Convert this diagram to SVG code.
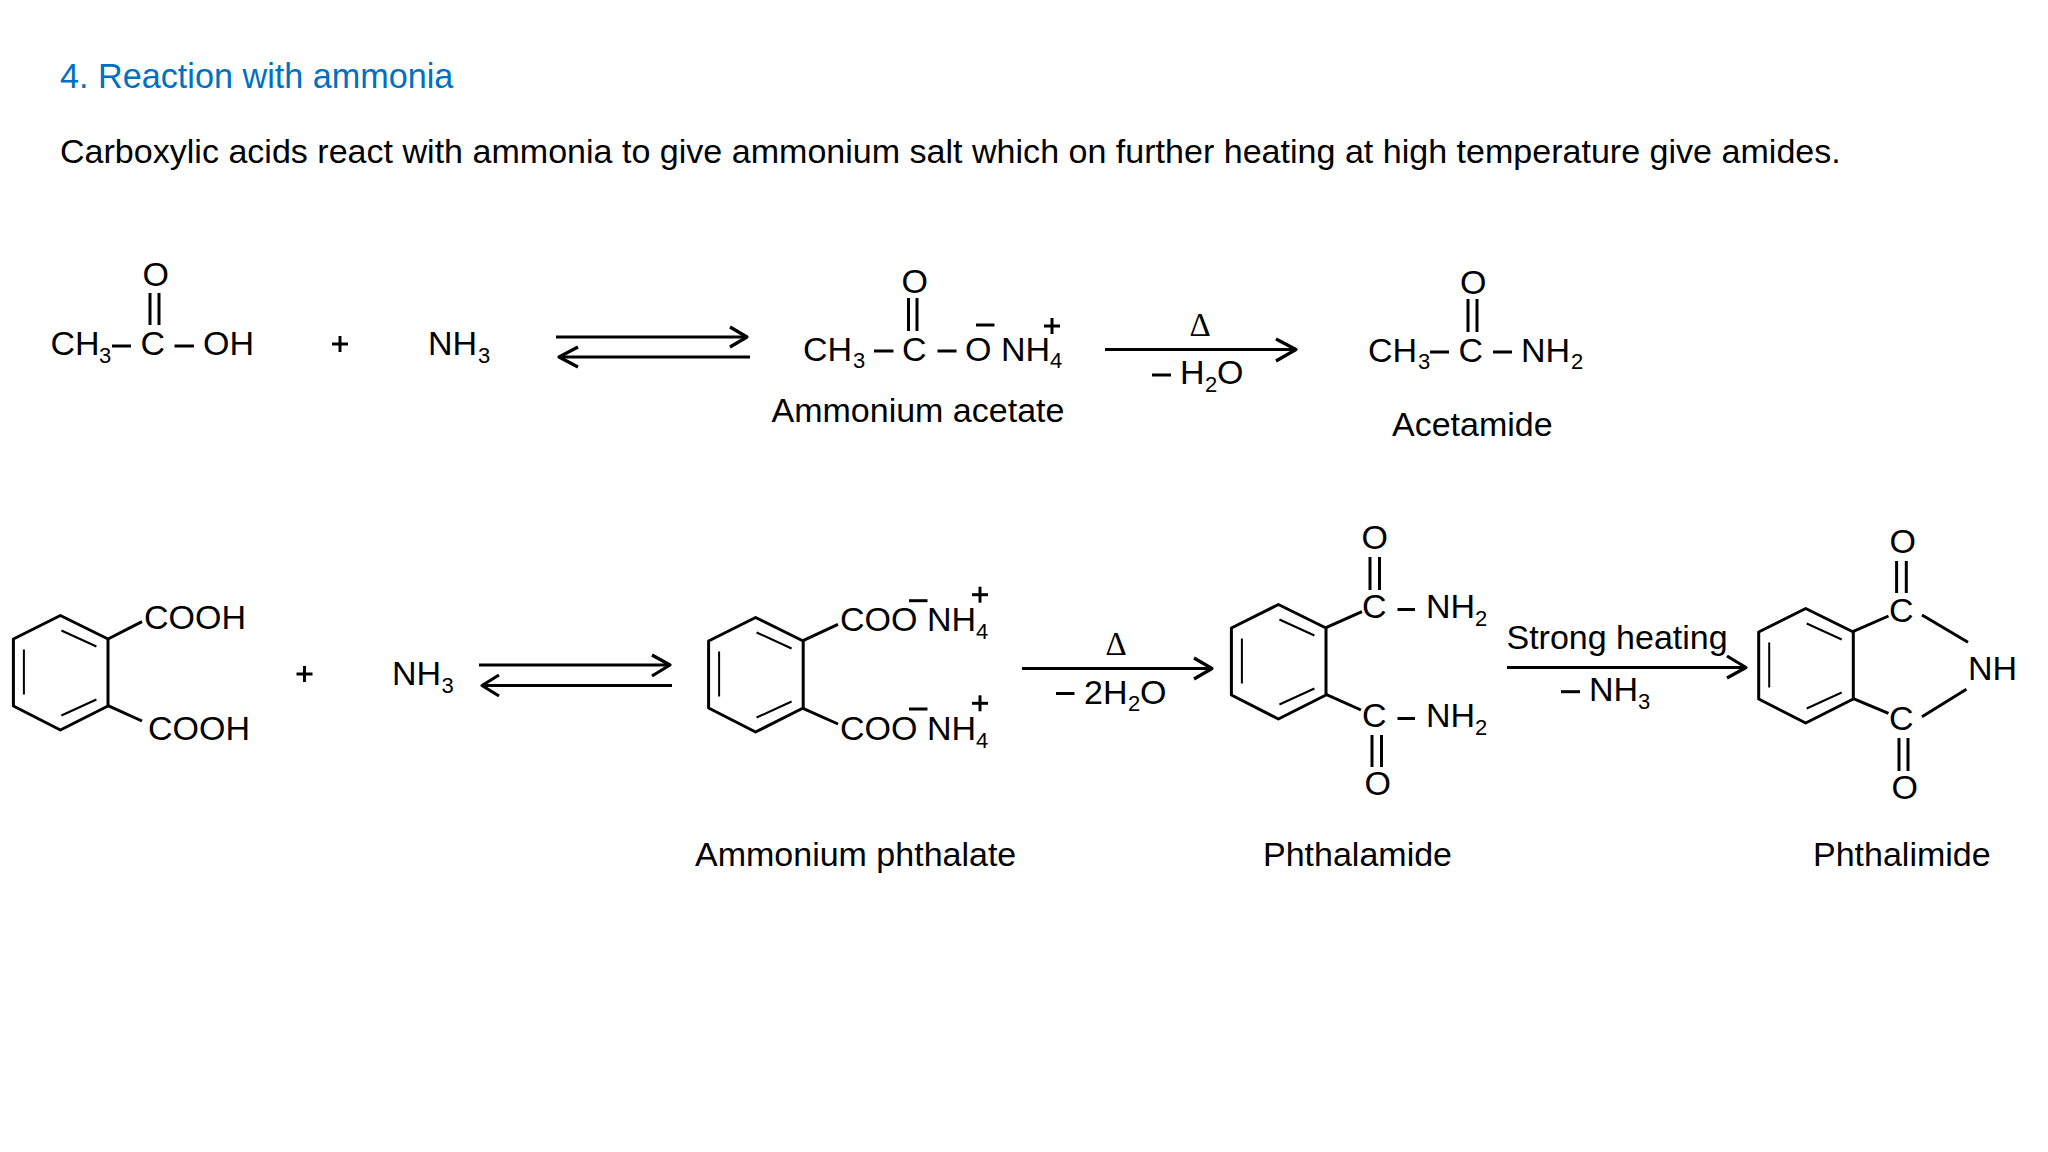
<svg xmlns="http://www.w3.org/2000/svg" width="2048" height="1152" viewBox="0 0 2048 1152">
<defs><style>
text{font-family:"Liberation Sans",Arial,sans-serif;font-size:34px;fill:#000}
.s{font-size:22px}
.d{font-family:"Liberation Serif","Times New Roman",serif;font-size:33px}
.h{fill:#0070c0;font-size:34.2px}
.b{font-size:34.05px}
line,polyline,polygon{stroke:#000;fill:none;stroke-width:3;stroke-linejoin:round}
.t{stroke-width:2}
.a{stroke-width:3.2}
</style>
<g id="ring"><polygon points="47,0 94.6,23.5 94.6,90.5 47,114.5 0,90.5 0,23.5"/><line class="t" x1="48" y1="15" x2="83" y2="31"/><line class="t" x1="10.5" y1="34" x2="10.5" y2="79"/><line class="t" x1="48" y1="100" x2="83" y2="84"/></g>
</defs>
<rect width="2048" height="1152" fill="#fff"/>
<g id="heading"><text class="h" x="60" y="88">4. Reaction with ammonia</text></g>
<g id="intro"><text class="b" x="60" y="163">Carboxylic acids react with ammonia to give ammonium salt which on further heating at high temperature give amides.</text></g>

<g id="connectors">
<polyline class="a" points="556,337 747,337"/><polyline class="a" points="730,327 747,337 730,347"/>
<polyline class="a" points="559,357 750,357"/><polyline class="a" points="578,347 559,357 578,367"/>
<polyline class="a" points="1105,349.5 1296,349.5"/><polyline class="a" points="1276,339 1296,349.5 1276,361"/>
<polyline class="a" points="479,665 670,665"/><polyline class="a" points="652,655 670,665 652,676"/>
<polyline class="a" points="482,685.5 672,685.5"/><polyline class="a" points="499,675 482,685.5 499,696"/>
<polyline class="a" points="1022,668.5 1212,668.5"/><polyline class="a" points="1194,658 1212,668.5 1194,679"/>
<polyline class="a" points="1507,667.5 1746,667.5"/><polyline class="a" points="1727,656 1746,667.5 1727,678"/>
</g>

<g id="acetic-acid">
<text x="142.5" y="286">O</text>
<line x1="150" y1="293" x2="150" y2="325"/><line x1="159" y1="293" x2="159" y2="325"/>
<text x="50.5" y="355">CH</text><text class="s" x="99" y="363">3</text>
<line x1="112" y1="346" x2="131" y2="346"/>
<text x="140.5" y="355">C</text>
<line x1="174.5" y1="346" x2="194" y2="346"/>
<text x="203" y="355">OH</text>
</g>
<g id="plus-1"><line x1="332" y1="344" x2="348" y2="344"/><line x1="340" y1="336" x2="340" y2="352"/></g>
<g id="ammonia-1"><text x="428" y="355">NH</text><text class="s" x="478" y="363">3</text></g>

<g id="ammonium-acetate">
<text x="901.5" y="293">O</text>
<line x1="908.5" y1="298" x2="908.5" y2="331"/><line x1="917" y1="298" x2="917" y2="331"/>
<text x="803" y="361">CH</text><text class="s" x="853" y="368">3</text>
<line x1="874" y1="351" x2="893.5" y2="351"/>
<text x="902" y="361">C</text>
<line x1="937.5" y1="351" x2="956.5" y2="351"/>
<text x="965" y="361">O</text>
<line x1="976" y1="325" x2="994.5" y2="325"/>
<text x="1001" y="361">NH</text><text class="s" x="1050" y="368">4</text>
<line x1="1044" y1="326" x2="1060" y2="326"/><line x1="1052" y1="318" x2="1052" y2="334"/>
<text x="771.5" y="422">Ammonium acetate</text>
</g>
<g id="cond-1"><text class="d" x="1200" y="336" text-anchor="middle">Δ</text>
<line x1="1152" y1="375" x2="1171" y2="375"/>
<text x="1180" y="384">H</text><text class="s" x="1205" y="392">2</text><text x="1217" y="384">O</text></g>

<g id="acetamide">
<text x="1460" y="294">O</text>
<line x1="1468" y1="299" x2="1468" y2="332"/><line x1="1477" y1="299" x2="1477" y2="332"/>
<text x="1368" y="362">CH</text><text class="s" x="1418" y="369">3</text>
<line x1="1430" y1="352" x2="1449" y2="352"/>
<text x="1458.5" y="362">C</text>
<line x1="1493" y1="352" x2="1512" y2="352"/>
<text x="1521" y="362">NH</text><text class="s" x="1571" y="369">2</text>
<text x="1392" y="436">Acetamide</text>
</g>

<g id="phthalic-acid">
<use href="#ring" transform="translate(13.4,615.5)"/>
<line x1="108" y1="639" x2="142" y2="621.7"/><line x1="108" y1="705.7" x2="142" y2="721"/>
<text x="144" y="629">COOH</text><text x="148" y="739.5">COOH</text>
</g>
<g id="plus-2"><line x1="296.5" y1="674" x2="312.5" y2="674"/><line x1="304.5" y1="666" x2="304.5" y2="682"/></g>
<g id="ammonia-2"><text x="392" y="685">NH</text><text class="s" x="441.5" y="693">3</text></g>

<g id="ammonium-phthalate">
<use href="#ring" transform="translate(708.6,617.5)"/>
<line x1="803" y1="640.7" x2="838" y2="624.3"/><line x1="803" y1="708.3" x2="838" y2="724"/>
<text x="840" y="631">COO</text><line x1="909" y1="600.7" x2="927.5" y2="600.7"/>
<text x="927" y="631">NH</text><text class="s" x="976" y="639">4</text>
<line x1="972" y1="594.7" x2="988" y2="594.7"/><line x1="980" y1="586.7" x2="980" y2="602.7"/>
<text x="840" y="740">COO</text><line x1="909" y1="709" x2="927.5" y2="709"/>
<text x="927" y="740">NH</text><text class="s" x="976" y="748">4</text>
<line x1="972" y1="703.3" x2="988" y2="703.3"/><line x1="980" y1="695.3" x2="980" y2="711.3"/>
<text x="695" y="866">Ammonium phthalate</text>
</g>
<g id="cond-2"><text class="d" x="1116" y="655" text-anchor="middle">Δ</text>
<line x1="1056" y1="693.5" x2="1074.5" y2="693.5"/>
<text x="1084" y="703.5">2H</text><text class="s" x="1128" y="711">2</text><text x="1140" y="703.5">O</text></g>

<g id="phthalamide">
<use href="#ring" transform="translate(1231.4,604.5)"/>
<line x1="1326" y1="627.7" x2="1362" y2="611.7"/><line x1="1326" y1="694.3" x2="1361" y2="710"/>
<text x="1361.5" y="549">O</text>
<line x1="1370" y1="557" x2="1370" y2="590"/><line x1="1379.5" y1="557" x2="1379.5" y2="590"/>
<text x="1362" y="618">C</text>
<line x1="1397.5" y1="609.5" x2="1415" y2="609.5"/>
<text x="1426" y="618">NH</text><text class="s" x="1475" y="626">2</text>
<text x="1362" y="727">C</text>
<line x1="1397.5" y1="718.5" x2="1415" y2="718.5"/>
<text x="1426" y="727">NH</text><text class="s" x="1475" y="735">2</text>
<line x1="1372" y1="735" x2="1372" y2="767"/><line x1="1381.5" y1="735" x2="1381.5" y2="767"/>
<text x="1364.5" y="794.5">O</text>
<text x="1263" y="866">Phthalamide</text>
</g>
<g id="cond-3">
<text x="1506.5" y="648.5">Strong heating</text>
<line x1="1561" y1="691.7" x2="1580" y2="691.7"/>
<text x="1589" y="701">NH</text><text class="s" x="1638" y="709">3</text></g>

<g id="phthalimide">
<use href="#ring" transform="translate(1758.7,608.5)"/>
<line x1="1852.8" y1="631.7" x2="1888.5" y2="616"/><line x1="1852.8" y1="698.3" x2="1888.5" y2="713.3"/>
<text x="1889.5" y="553">O</text>
<line x1="1896.6" y1="561" x2="1896.6" y2="593"/><line x1="1906.3" y1="561" x2="1906.3" y2="593"/>
<text x="1889" y="622">C</text>
<line x1="1922" y1="615" x2="1968" y2="642.3"/>
<text x="1968" y="680">NH</text>
<line x1="1922" y1="716.7" x2="1966.4" y2="689.3"/>
<text x="1889" y="730">C</text>
<line x1="1899" y1="738" x2="1899" y2="771"/><line x1="1908" y1="738" x2="1908" y2="771"/>
<text x="1891.5" y="799">O</text>
<text x="1813" y="866">Phthalimide</text>
</g>
</svg>
